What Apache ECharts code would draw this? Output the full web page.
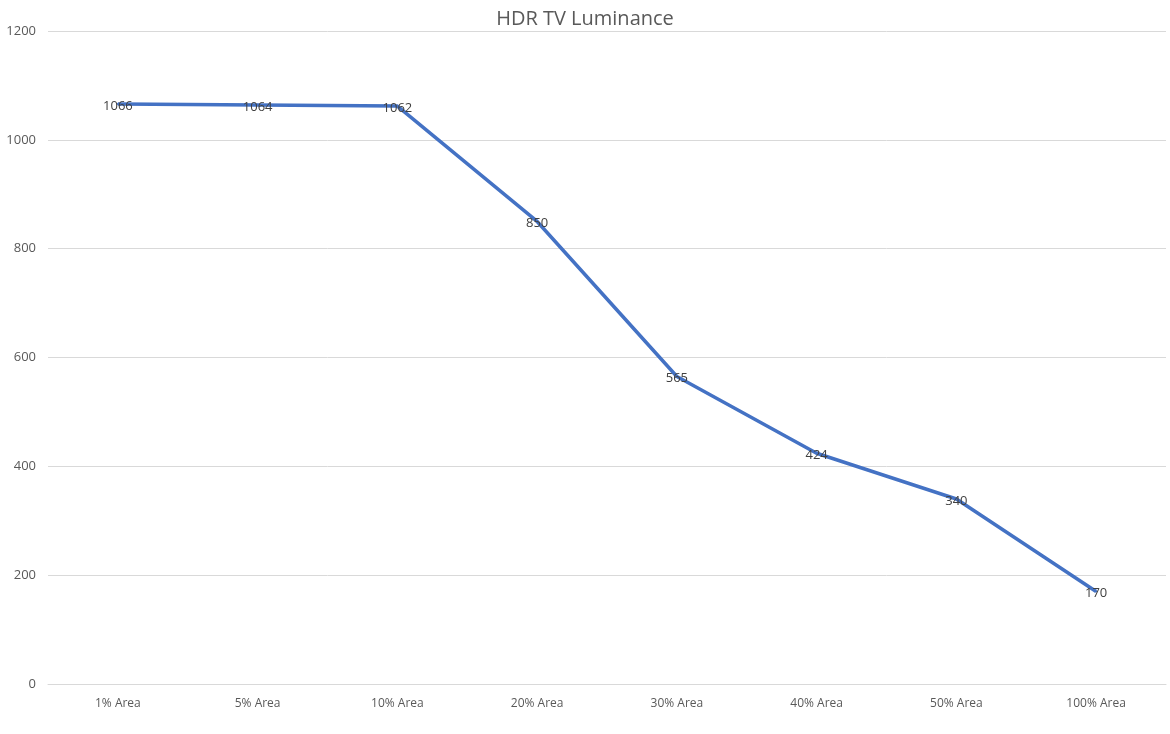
<!DOCTYPE html>
<html>
<head>
    <meta charset="utf-8">
    <title>HDR TV Luminance</title>
    <script src="https://cdn.jsdelivr.net/npm/echarts@6/dist/echarts.min.js"></script>
    <style>
        html, body { margin: 0; padding: 0; background: #fff; }
        #container { width: 1170px; height: 734px; }
    </style>
</head>
<body>
<div id="container"></div>
<script type="text/javascript">
    // 数据
    var categories = ['1% Area', '5% Area', '10% Area', '20% Area', '30% Area', '40% Area', '50% Area', '100% Area'];
    var luminance = [1066, 1064, 1062, 850, 565, 424, 340, 170];

    var myChart = echarts.init(document.getElementById('container'));
    var option = {
        animation: false,
        title: {
            text: 'HDR TV Luminance',
            left: 'center',
            top: 4,
            textStyle: { color: '#595959', fontSize: 20, fontWeight: 'normal', fontFamily: 'Open Sans' }
        },
        grid: { left: 48, right: 4, top: 31, bottom: 50 },
        xAxis: {
            type: 'category',
            data: categories,
            axisLine: { lineStyle: { color: '#d9d9d9' } },
            axisTick: { show: false },
            axisLabel: { color: '#595959', fontSize: 12, margin: 14, fontFamily: 'Open Sans' }
        },
        yAxis: {
            type: 'value',
            min: 0,
            max: 1200,
            interval: 200,
            axisLine: { show: false },
            axisTick: { show: false },
            splitLine: { lineStyle: { color: '#d9d9d9' } },
            axisLabel: {
                color: '#595959', fontSize: 13, margin: 12, fontFamily: 'Open Sans',
                formatter: function (v) { return String(v); }
            }
        },
        series: [{
            type: 'line',
            data: luminance,
            symbol: 'circle',
            symbolSize: 2,
            showSymbol: true,
            lineStyle: { color: '#4472c4', width: 3.5 },
            itemStyle: { color: '#4472c4' },
            label: {
                show: true,
                position: 'inside',
                offset: [0, 2],
                color: '#404040',
                fontSize: 13,
                fontFamily: 'Open Sans'
            }
        }]
    };
    myChart.setOption(option);
</script>
</body>
</html>
